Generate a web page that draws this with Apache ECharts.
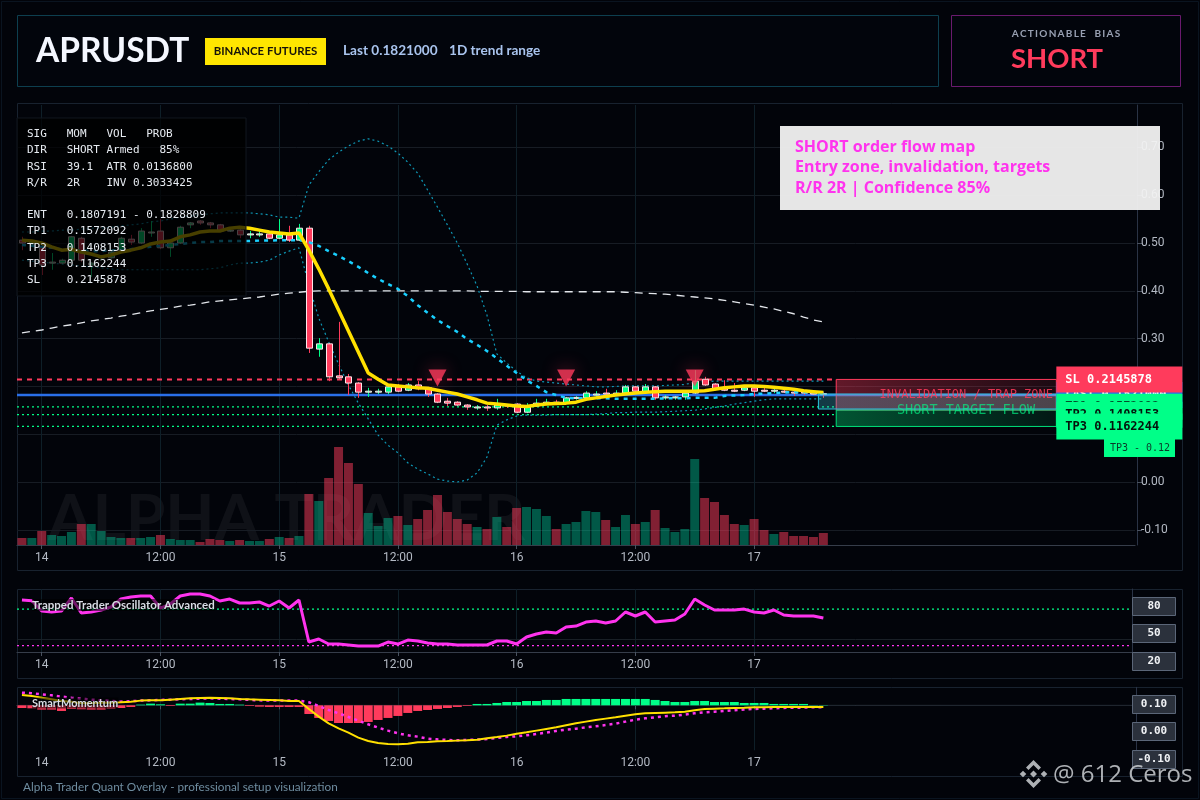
<!DOCTYPE html>
<html><head><meta charset="utf-8">
<style>html,body{margin:0;padding:0;background:#02040a}#c{width:1200px;height:800px}</style>
<script src="https://cdn.jsdelivr.net/npm/echarts@6/dist/echarts.min.js"></script>
</head><body><div id="c"></div>
<script>
const tickLabels={2:'14',14:'12:00',26:'15',38:'12:00',50:'16',62:'12:00',74:'17'};
const categories=Array.from({length:113},(_,i)=>tickLabels[i]||'');
const open=[.506,.498,.492,.459,.458,.464,.510,.454,.469,.469,.485,.508,.500,.522,.525,.490,.500,.538,.546,.542,.538,.525,.527,.518,.518,.519,.510,.517,.506,.531,.278,.289,.222,.220,.207,.189,.189,.188,.199,.192,.203,.197,.184,.169,.167,.161,.156,.157,.155,.161,.163,.146,.159,.163,.167,.165,.176,.176,.183,.186,.184,.186,.199,.188,.199,.177,.177,.178,.186,.215,.205,.195,.192,.192,.197,.192,.190,.190,.188,.188,.186,.185];
const close=[.500,.504,.454,.460,.464,.513,.464,.458,.473,.481,.510,.502,.525,.523,.490,.500,.533,.542,.542,.538,.525,.527,.517,.519,.519,.510,.517,.506,.531,.280,.289,.220,.218,.207,.188,.190,.190,.199,.190,.203,.195,.184,.167,.165,.161,.157,.157,.155,.161,.159,.146,.157,.165,.167,.165,.176,.177,.186,.184,.184,.186,.199,.190,.199,.176,.178,.178,.186,.211,.203,.195,.192,.190,.197,.190,.190,.192,.188,.186,.186,.185,.183];
const low=[.485,.494,.433,.444,.456,.460,.460,.429,.464,.467,.481,.496,.498,.513,.487,.471,.498,.531,.538,.531,.523,.523,.510,.510,.513,.508,.508,.502,.504,.270,.262,.211,.215,.182,.176,.178,.184,.184,.188,.190,.192,.178,.165,.159,.159,.151,.151,.149,.151,.155,.144,.144,.157,.161,.163,.163,.172,.174,.178,.176,.180,.184,.188,.186,.172,.172,.172,.172,.184,.201,.192,.190,.188,.190,.178,.188,.186,.186,.180,.182,.182,.176];
const high=[.513,.506,.496,.479,.467,.515,.513,.460,.475,.485,.513,.517,.531,.546,.550,.502,.536,.544,.548,.544,.540,.531,.529,.525,.525,.523,.550,.536,.540,.536,.301,.291,.335,.226,.209,.197,.195,.201,.205,.207,.211,.199,.186,.176,.169,.163,.161,.161,.174,.163,.165,.165,.174,.174,.172,.178,.180,.190,.190,.195,.192,.203,.201,.205,.201,.182,.180,.188,.234,.220,.207,.213,.207,.201,.199,.197,.197,.195,.192,.190,.188,.188];
const emaFast=[.506,.504,.500,.492,.485,.487,.481,.477,.471,.475,.481,.485,.490,.498,.502,.504,.513,.517,.523,.525,.525,.531,.533,.531,.527,.523,.521,.519,.521,.485,.446,.404,.360,.316,.272,.228,.215,.203,.201,.199,.197,.196,.192,.188,.184,.178,.172,.165,.163,.161,.159,.158,.161,.163,.164,.165,.167,.173,.176,.179,.182,.184,.186,.188,.189,.190,.190,.190,.190,.191,.194,.197,.199,.201,.201,.200,.198,.196,.194,.191,.189,.187];
const bandMid=[.496,.494,.492,.490,.487,.485,.485,.483,.483,.485,.485,.487,.490,.492,.494,.496,.498,.500,.502,.502,.504,.504,.504,.504,.505,.505,.506,.506,.506,.502,.494,.483,.473,.462,.450,.437,.425,.414,.404,.389,.370,.354,.339,.326,.314,.299,.287,.274,.259,.243,.228,.213,.201,.188,.182,.176,.175,.175,.175,.175,.174,.174,.174,.174,.174,.175,.175,.175,.176,.176,.176,.180,.181,.182,.184,.185,.186,.187,.188,.188,.188,.188];
const bandUpper=[.523,.523,.525,.525,.527,.527,.529,.531,.531,.533,.536,.538,.540,.544,.546,.550,.554,.556,.559,.561,.563,.563,.563,.563,.561,.559,.554,.554,.552,.621,.649,.674,.690,.703,.713,.718,.713,.703,.688,.669,.646,.611,.575,.538,.500,.456,.410,.349,.268,.249,.232,.218,.211,.209,.207,.205,.203,.201,.199,.199,.200,.201,.201,.201,.201,.202,.203,.204,.209,.210,.211,.211,.211,.211,.211,.211,.211,.211,.211,.211,.211,.211];
const bandLower=[.464,.462,.460,.458,.456,.454,.452,.450,.448,.446,.444,.444,.444,.444,.444,.444,.444,.444,.444,.446,.448,.454,.458,.458,.460,.464,.475,.483,.490,.412,.343,.293,.247,.203,.165,.132,.098,.077,.061,.040,.027,.017,.006,.002,0,.004,.019,.052,.119,.130,.138,.140,.140,.140,.141,.141,.141,.141,.142,.143,.145,.145,.146,.146,.146,.147,.148,.149,.150,.153,.156,.159,.163,.166,.169,.172,.174,.174,.174,.174,.174,.174];
const trendSlow=[.312,.315,.318,.322,.326,.329,.333,.337,.340,.343,.347,.350,.354,.358,.361,.364,.368,.370,.373,.377,.379,.381,.383,.385,.387,.390,.393,.395,.397,.399,.400,.400,.400,.400,.400,.400,.400,.400,.400,.400,.400,.400,.400,.400,.400,.400,.399,.399,.399,.399,.399,.398,.398,.398,.398,.398,.398,.398,.398,.398,.398,.397,.396,.395,.394,.393,.391,.389,.387,.385,.383,.380,.377,.373,.370,.366,.362,.357,.352,.345,.339,.335];
const volume=[.7,.7,1.4,1.0,.9,1.3,2.1,2.1,1.4,.8,.7,.7,.7,.8,1.0,.6,.5,.5,.3,.6,.5,.4,.5,.4,.4,.6,.8,.7,.9,5.1,4.4,6.7,9.8,8.2,6.1,3.2,1.9,2.7,2.9,2.0,2.6,3.5,5.0,3.3,2.6,2.1,1.8,1.6,2.8,1.8,3.7,3.8,3.6,2.9,1.6,2.1,2.3,3.4,3.3,2.5,1.8,3.0,2.1,2.3,3.5,1.7,1.3,1.6,8.6,4.7,4.3,3.0,2.1,2.0,2.6,1.5,1.1,1.3,.9,.9,.8,1.2];
const oscillator=[94.9,93.8,76.8,75.2,76.8,98.2,73.5,75.2,78.5,83.4,96.5,99.8,101.5,101.5,81.7,88.3,101.5,104.8,104.8,101.5,93.3,96.5,90,90,91.6,85,93.3,81.7,94.9,25.8,30.8,22.5,22.5,20.9,19.2,19.2,19.2,25.8,22.5,29.1,27.5,24.2,22.5,22.5,20.9,20.9,20.9,20.9,27.5,27.5,22.5,34,39,42.3,40.6,50.5,52.1,58.7,60.4,57,60.4,75.2,68.6,75.2,58.7,60.4,62,71.9,96.5,86.7,78.5,78.5,78.5,80,75.2,73.5,78.5,70.2,68.6,68.6,68.6,65.3];
const histogram=[-.006,-.0067,-.0096,-.0096,-.0126,-.0081,-.0089,-.0096,-.0096,-.0074,-.006,-.0037,.0015,.0037,.0022,-.0015,.0037,.0037,.006,.0052,.003,.003,.0015,-.0015,-.003,-.0037,-.0037,-.0037,-.0037,-.0193,-.0281,-.0348,-.0393,-.0393,-.0393,-.037,-.0326,-.0281,-.0237,-.017,-.0126,-.0104,-.0081,-.006,-.0037,-.0015,.003,.003,.0052,.0074,.0074,.0096,.0096,.0119,.0119,.0141,.0141,.0141,.0141,.0141,.0141,.0141,.0141,.0141,.0119,.0096,.0074,.0074,.0096,.0096,.0074,.0074,.0074,.0052,.0052,.0052,.003,.003,.003,.003,.0007,.0007];
const macdLine=[.023,.0207,.017,.0133,.0096,.0081,.0044,.0044,.0059,.0059,.0067,.0081,.0104,.0111,.0111,.0126,.0141,.0156,.0163,.017,.0163,.0156,.0141,.0133,.0126,.0119,.0111,.0096,.0096,-.0081,-.0252,-.04,-.0511,-.0607,-.0719,-.0793,-.0837,-.0859,-.0867,-.0852,-.0822,-.0815,-.08,-.0793,-.0785,-.0778,-.0763,-.0733,-.0704,-.0674,-.063,-.06,-.0563,-.0526,-.0489,-.0444,-.04,-.0363,-.0326,-.0296,-.0267,-.023,-.02,-.0178,-.017,-.0163,-.0156,-.0141,-.0111,-.0081,-.0074,-.0067,-.0059,-.0052,-.0044,-.0044,-.0037,-.0037,-.0037,-.0037,-.0037,-.0037];
const signalLine=[.0281,.0267,.0244,.0222,.0193,.017,.0148,.0126,.0111,.0096,.0081,.0089,.0104,.0111,.0119,.0126,.0133,.0141,.0148,.0156,.0148,.0141,.0133,.0119,.0111,.0104,.0104,.0104,.0104,.0067,-.0015,-.0104,-.0178,-.0259,-.0341,-.0422,-.0496,-.0563,-.0622,-.0667,-.0696,-.0741,-.0756,-.077,-.0778,-.077,-.0763,-.0748,-.0726,-.0704,-.0689,-.0667,-.0637,-.0607,-.057,-.0541,-.0519,-.0489,-.0467,-.0437,-.0407,-.0363,-.0319,-.0289,-.0267,-.0244,-.023,-.0207,-.0178,-.0156,-.0141,-.0126,-.0111,-.0096,-.0081,-.0074,-.0067,-.0059,-.0052,-.0052,-.0044,-.0044];
const signalIndex=[42,55,68];
const signalLevel=.2176;
const levelSL=.2145878,levelLast=.1821,levelTP1=.1572092,levelTP2=.1408153,levelTP3=.1162244;
const tagNames=['LAST 0.1821000','SL 0.2145878','TP1 0.1572092','TP2 0.1408153','TP3 0.1162244'];
const tagLevels=[levelLast,levelSL,levelTP1,levelTP2,levelTP3];
const tagFills=['#2a6fe8','#ff3b5c','#00ff88','#00ff88','#00ff88'];
const tagInk=['#ffffff','#ffffff','#04140c','#04140c','#04140c'];
const panelInfo=['SIG   MOM   VOL   PROB','DIR   SHORT Armed   85%','RSI   39.1  ATR 0.0136800','R/R   2R    INV 0.3033425','','ENT   0.1807191 - 0.1828809','TP1   0.1572092','TP2   0.1408153','TP3   0.1162244','SL    0.2145878'];
const oscTicks=['80','50','20'];
const momTicks=['0.10','0.00','-0.10'];
const oscOver=80,oscUnder=20,oscGuide=30;
const noteLines=['SHORT order flow map','Entry zone, invalidation, targets','R/R 2R | Confidence 85%'];

const MONO='"DejaVu Sans Mono",monospace',HEAD='Lato,sans-serif',UI='Roboto,sans-serif';
const RED='#ff3b5c',GREEN='#00ff88';
const idx=a=>a.map((v,i)=>[i,v]);
const L=17,W=1118,XEND=82.3,TAGX=104.55,BOXX=80.5;
const tickShow=i=>!!tickLabels[i];
function xCat(gridIndex,show,lineCol){return {type:'category',gridIndex,data:categories,boundaryGap:true,position:'bottom',
  axisLine:{show,lineStyle:{color:lineCol||'#363d4a',width:1.2}},
  axisTick:{show,alignWithLabel:true,interval:tickShow,length:4,lineStyle:{color:'#4a5260'}},
  axisLabel:{show,interval:tickShow,color:'#b4bac4',fontFamily:UI,fontSize:12,margin:7,hideOverlap:false},
  splitLine:{show,alignWithLabel:true,interval:tickShow,lineStyle:{color:'#0e1f28',width:1}}};}
const xVal=gridIndex=>({type:'value',gridIndex,min:-0.5,max:112.5,show:false,position:'top',splitLine:{show:false}});
const yHide={axisLabel:{show:false},axisTick:{show:false},splitLine:{show:false}};
const yLine={show:true,onZero:false,lineStyle:{color:'#2a3345'}};
const line=(name,data,x,y,color,width,type,z,op)=>({name,type:'line',xAxisIndex:x,yAxisIndex:y,data,symbol:'none',silent:true,clip:false,z,
  lineStyle:{color,width,type,opacity:op==null?1:op,cap:'butt'}});
const hline=(v,x1,color,width,type,z)=>line('lvl',[[-0.5,v],[x1,v]],2,1,color,width,type,z);
function grad(c0,c1){return new echarts.graphic.LinearGradient(0,0,1,0,[{offset:0,color:c0},{offset:1,color:c1}]);}
const zones=[
 {from:XEND,top:levelSL,bot:.1506,fill:grad('rgba(255,59,92,.38)','rgba(255,59,92,.10)'),stroke:'#ff3b5c',sw:1},
 {from:XEND,top:.1506,bot:levelTP3,fill:grad('rgba(0,255,136,.32)','rgba(0,255,136,.08)'),stroke:'#00e07a',sw:1},
 {from:BOXX,top:.184,bot:.1527,fill:grad('rgba(60,200,225,.28)','rgba(200,220,220,.28)'),stroke:'#2bc4e0',sw:1}];

const boxFrame=(x,y,w,h,stroke,fill,z)=>({type:'rect',shape:{x,y,width:w,height:h},style:{fill:fill||'none',stroke,lineWidth:1},z:z==null?1:z,silent:true});
const txt=(x,y,text,fill,font,align,z,extra)=>({type:'text',x,y,z:z==null?110:z,silent:true,style:Object.assign({text,fill,font,align:align||'left',verticalAlign:'middle'},extra||{})});
const c0x=1033.5,c0y=774;
const logoShapes=[
 [[0,-14],[7.5,-6.5],[5,-4],[0,-9],[-5,-4],[-7.5,-6.5]],
 [[0,14],[7.5,6.5],[5,4],[0,9],[-5,4],[-7.5,6.5]],
 [[-10.5,-3.3],[-7.2,0],[-10.5,3.3],[-13.8,0]],
 [[10.5,-3.3],[13.8,0],[10.5,3.3],[7.2,0]],
 [[0,-3.5],[3.5,0],[0,3.5],[-3.5,0]]];
const graphicEls=[
 boxFrame(1.5,1.5,1197,797,'#0a1420','none',0),
 boxFrame(17.5,15.5,921,71,'#0d3f4f','#02050c',0),
 boxFrame(951.5,15.5,229,71,'#6a1a6e','#02050c',0),
 boxFrame(17.5,103.5,1165,467,'#18222f','#02040a',0),
 boxFrame(17.5,589.5,1165,89,'#18222f','#02040a',0),
 boxFrame(17.5,687.5,1165,89,'#18222f','#02040a',0),
 txt(36,51,'APRUSDT','#f4f7ff','bold 33.5px '+HEAD,'left',110,{shadowColor:'rgba(120,220,255,.55)',shadowBlur:10}),
 {type:'rect',shape:{x:205,y:38,width:121,height:27},style:{fill:'#ffe600'},z:110,silent:true},
 txt(265.5,51.5,'BINANCE FUTURES','#16130a','bold 11.4px '+HEAD,'center'),
 txt(343,51,'Last 0.1821000','#a9c4ee','bold 13.6px '+HEAD),
 txt(449,51,'1D trend range','#a9c4ee','bold 13.6px '+HEAD),
 txt(1066,34,'ACTIONABLE  BIAS'.split('').join('\u2009'),'#98a0b2','bold 10px '+HEAD,'center'),
 txt(1057,59,'SHORT',RED,'bold 27.5px '+HEAD,'center',110,{shadowColor:'rgba(255,59,92,.6)',shadowBlur:12}),
 txt(48,519,'ALPHA TRADER','rgba(255,255,255,.055)','bold 64px '+HEAD,'left',0),
 {type:'rect',shape:{x:17,y:118,width:229,height:178},style:{fill:'rgba(0,0,0,.72)',stroke:'#10161f',lineWidth:1},z:100,silent:true},
 ...panelInfo.map((t,i)=>txt(27,134.3+i*16.2,t,'#e6ebf1','11px '+MONO)),
 {type:'rect',shape:{x:780,y:126,width:380,height:84},style:{fill:'rgba(242,242,242,.95)'},z:100,silent:true},
 ...noteLines.map((t,i)=>txt(795,147+i*20.7,t,'#ff33ee','bold 16px "Open Sans",sans-serif')),
 txt(1053,395,'INVALIDATION / TRAP ZONE','rgba(255,59,92,.85)','12px '+MONO,'right',60),
 txt(966,410,'SHORT TARGET FLOW','rgba(0,255,136,.65)','13.5px '+MONO,'center',60),
 {type:'rect',shape:{x:1104,y:439,width:71,height:18},style:{fill:GREEN},z:110,silent:true},
 txt(1140,448.5,'TP3 - 0.12','#0a3a2a','10px '+MONO,'center'),
 txt(32,605,'Trapped Trader Oscillator Advanced','#d8dce4','bold 11.5px '+HEAD,'left',110,{backgroundColor:'rgba(0,0,0,.55)'}),
 txt(32,703,'SmartMomentum','#d8dce4','bold 11px '+HEAD,'left',110,{backgroundColor:'rgba(0,0,0,.55)'}),
 ...[[597,0],[624,1],[652,2]].map(([y,i])=>({type:'group',z:110,children:[
   {type:'rect',z:110,shape:{x:1132.5,y:y+.5,width:43,height:18},style:{fill:'#2b313c',stroke:'#5b6678',lineWidth:1},silent:true},
   txt(1154,y+9.5,oscTicks[i],'#f0f2f5','bold 11px '+MONO,'center',111)]})),
 ...[[695,0],[722,1],[750,2]].map(([y,i])=>({type:'group',z:110,children:[
   {type:'rect',z:110,shape:{x:1132.5,y:y+.5,width:43,height:18},style:{fill:'#2b313c',stroke:'#5b6678',lineWidth:1},silent:true},
   txt(1154,y+9.5,momTicks[i],'#f0f2f5','bold 11px '+MONO,'center',111)]})),
 txt(23,787,'Alpha Trader Quant Overlay - professional setup visualization','#6f8da0','11.75px '+HEAD),
 txt(1053,775,'@ 612 Ceros','rgba(205,208,212,.85)','24px "Open Sans",sans-serif','left',120),
 ...logoShapes.map(s=>({type:'polygon',z:120,silent:true,shape:{points:s.map(([a,b])=>[c0x+a,c0y+b])},style:{fill:'rgba(205,208,212,.85)'}}))
];

const candleData=open.map((o,i)=>[i,o,close[i],low[i],high[i]]);
const option={
 animation:false,backgroundColor:'#02040a',
 textStyle:{fontFamily:UI},
 graphic:{elements:graphicEls},
 grid:[
  {left:L,top:105,width:W,height:440},
  {left:L,top:147.4,width:W,height:382.4},
  {left:L,top:589,width:W,height:63},
  {left:L,top:687.3,width:W,height:63}],
 xAxis:[xCat(0,true),xCat(1,false),xVal(1),xCat(2,true),xCat(3,true),xVal(2),xVal(3)],
 yAxis:[
  {type:'value',gridIndex:0,min:0,max:44,position:'right',offset:2,axisLine:yLine,...yHide},
  {type:'value',gridIndex:1,min:-0.1,max:0.7,interval:0.1,position:'right',offset:2,axisLine:{show:false,onZero:false},
   axisTick:{show:true,length:5,lineStyle:{color:'#4a5260'}},
   axisLabel:{color:'#b4bac4',fontFamily:UI,fontSize:12,margin:4,padding:[2,0,0,0],formatter:v=>v.toFixed(2)},
   splitLine:{lineStyle:{color:'#171c24',width:1}}},
  {type:'value',gridIndex:2,min:9.4,max:113,position:'right',offset:-3,axisLine:yLine,...yHide},
  {type:'value',gridIndex:3,min:-0.1,max:0.04,position:'right',offset:1,axisLine:yLine,...yHide}],
 series:[
  {name:'Volume',type:'bar',xAxisIndex:0,yAxisIndex:0,barWidth:9,z:2,silent:true,
   data:volume.map((v,i)=>({value:v,itemStyle:{color:close[i]>=open[i]?'rgba(0,225,170,.38)':'rgba(255,59,92,.5)'}}))},
  hline(levelSL,XEND,RED,2,[5,5],3),
  hline(levelLast,TAGX,'#2a6fe8',2.5,'solid',3),
  hline(levelTP1,XEND,GREEN,1.3,[2,3],3),
  hline(levelTP2,XEND,GREEN,1.3,[2,3],3),
  hline(levelTP3,XEND,GREEN,1.3,[2,3],3),
  line('Upper',idx(bandUpper),1,1,'#0e98b6',1.2,[2,3],4),
  line('Lower',idx(bandLower),1,1,'#0e98b6',1.2,[2,3],4),
  line('Trend',idx(trendSlow),1,1,'#e4e7ec',1.3,[8,6],4),
  {name:'Candles',type:'custom',xAxisIndex:1,yAxisIndex:1,data:candleData,z:5,silent:true,clip:false,
   encode:{x:0,y:[1,2,3,4]},
   renderItem(p,api){
     const i=api.value(0),o=api.value(1),c=api.value(2),l=api.value(3),h=api.value(4);
     const a=api.coord([i,o]),b=api.coord([i,c]),lo=api.coord([i,l]),hi=api.coord([i,h]);
     const col=c>=o?GREEN:RED,x=Math.round(a[0])+.5,w=6;
     const t=Math.min(a[1],b[1]),bh=Math.max(Math.abs(a[1]-b[1]),1);
     return {type:'group',children:[
       {type:'line',shape:{x1:x,y1:hi[1],x2:x,y2:lo[1]},style:{stroke:col,lineWidth:1}},
       {type:'rect',shape:{x:x-w/2,y:t,width:w,height:bh},style:{fill:col,stroke:'#ffe6ea',lineWidth:1}}]};
   }},
  line('BandMid',idx(bandMid),1,1,'#19d0ff',2.5,[4,5],6),
  line('EMA',idx(emaFast),1,1,'#ffe000',3.5,'solid',7),
  {name:'Signals',type:'scatter',xAxisIndex:1,yAxisIndex:1,z:8,silent:true,symbol:'triangle',symbolRotate:180,symbolSize:[18,17],
   data:signalIndex.map(i=>[i,signalLevel]),itemStyle:{color:RED,shadowColor:'rgba(255,59,92,.55)',shadowBlur:18}},
  {name:'Zones',type:'custom',xAxisIndex:2,yAxisIndex:1,data:zones.map((z,i)=>[z.from,z.top,z.bot,i]),z:9,silent:true,clip:false,
   encode:{x:0,y:[1,2]},
   renderItem(p,api){
     const z=zones[api.value(3)],a=api.coord([z.from,z.top]),b=api.coord([TAGX,z.bot]);
     return {type:'rect',shape:{x:a[0],y:a[1],width:b[0]-a[0],height:b[1]-a[1]},style:{fill:z.fill,stroke:z.stroke,lineWidth:z.sw}};
   }},
  {name:'Tags',type:'custom',xAxisIndex:2,yAxisIndex:1,data:tagLevels.map((v,i)=>[TAGX,v,i]),z:20,silent:true,clip:false,
   encode:{x:0,y:1},
   renderItem(p,api){
     const i=api.value(2),a=api.coord([api.value(0),api.value(1)]);
     return {type:'group',children:[
       {type:'rect',shape:{x:a[0],y:a[1]-13,width:126,height:26},style:{fill:tagFills[i]}},
       {type:'text',style:{x:a[0]+9,y:a[1],text:tagNames[i],fill:tagInk[i],font:'bold 12px '+MONO,verticalAlign:'middle'}}]};
   }},
  line('OscGuide',[[-0.5,oscGuide],[112.5,oscGuide]],5,2,'#1a2028',1,'solid',2),
  line('OscOver',[[-0.5,oscOver],[112,oscOver]],5,2,GREEN,1.2,[2,3],3),
  line('OscUnder',[[-0.5,oscUnder],[112,oscUnder]],5,2,'#ff33ee',1.2,[2,3],3),
  line('Oscillator',idx(oscillator),3,2,'#ff33ee',3,'solid',5),
  line('MomZero',[[-0.5,0],[112.5,0]],6,3,'#1a2028',1,'solid',2),
  {name:'Histogram',type:'bar',xAxisIndex:4,yAxisIndex:3,barWidth:9,z:3,silent:true,
   data:histogram.map(v=>({value:v,itemStyle:{color:v>=0?GREEN:RED}}))},
  line('Signal',idx(signalLine),4,3,'#ff33ee',2.5,[3,4],5),
  line('MACD',idx(macdLine),4,3,'#ffe000',2,'solid',6)
 ]};
const chart=echarts.init(document.getElementById('c'),null,{renderer:'canvas',width:1200,height:800});
chart.setOption(option);
</script></body></html>
